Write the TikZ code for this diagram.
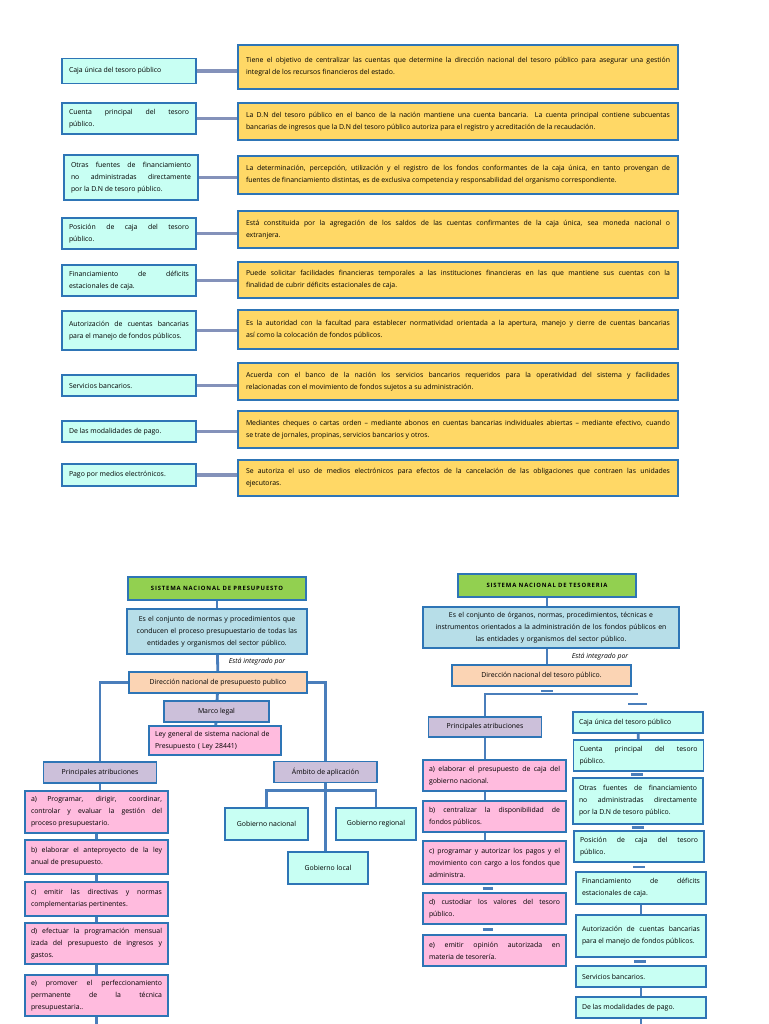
\documentclass[tikz,border=0pt]{standalone}
\usepackage{fontspec}
\setmainfont{Open Sans}
\usepackage{tikz}
\usetikzlibrary{positioning,calc}
\definecolor{bordc}{RGB}{46,117,182}
\definecolor{cyanc}{RGB}{200,255,243}
\definecolor{goldc}{RGB}{255,216,102}
\definecolor{greenc}{RGB}{146,208,80}
\definecolor{descc}{RGB}{183,222,232}
\definecolor{peachc}{RGB}{251,212,180}
\definecolor{lavc}{RGB}{204,192,218}
\definecolor{pinkc}{RGB}{255,187,222}
\definecolor{lnc}{RGB}{74,126,187}
\definecolor{lkc}{RGB}{132,146,186}
\tikzset{
  bx/.style   = {draw=bordc, line width=1.8pt, inner xsep=6pt, inner ysep=2pt,
                 font=\fontsize{6.9}{12}\selectfont},
  cy/.style   = {bx, fill=cyanc, align=justify, text width=120pt, inner xsep=7pt},
  cyr/.style  = {bx, fill=cyanc, align=justify, text width=118pt},
  cyc/.style  = {bx, fill=cyanc, align=center},
  gd/.style   = {bx, fill=goldc, align=justify, text width=424pt, inner xsep=8pt},
  hd/.style   = {bx, fill=greenc, align=center, minimum width=178pt, minimum height=23pt,
                 font=\fontsize{5.9}{7}\selectfont\bfseries\addfontfeatures{LetterSpace=14}},
  ds/.style   = {bx, fill=descc, align=center},
  pc/.style   = {bx, fill=peachc, align=center, minimum height=21pt},
  lv/.style   = {bx, fill=lavc, align=center, minimum height=21pt},
  pk/.style   = {bx, fill=pinkc, align=justify, text width=131pt},
  ln/.style   = {draw=lnc, line width=2.8pt},
  lk/.style   = {draw=lkc, line width=3.5pt},
  lbl/.style  = {font=\fontsize{6.9}{8}\selectfont\itshape, inner sep=1pt},
}
\begin{document}
\begin{tikzpicture}[x=1pt,y=-1pt]
\path[use as bounding box, fill=white] (0,0) rectangle (768,1024);

\node[cy, minimum height=25pt] (l1) at (129,71) {Caja única del tesoro público};
\node[gd, minimum height=44pt] (r1) at (458,67)
     {Tiene el objetivo de centralizar las cuentas que determine la dirección nacional del tesoro público para asegurar una gestión\linebreak
      integral de los recursos financieros del estado.};
\node[cy, minimum height=31pt] (l2) at (129,118.5) {Cuenta principal del tesoro\linebreak público.};
\node[gd, minimum height=37pt] (r2) at (458,121.5)
     {La D.N del tesoro público en el banco de la nación mantiene una cuenta bancaria. La cuenta principal contiene subcuentas\linebreak
      bancarias de ingresos que la D.N del tesoro público autoriza para el registro y acreditación de la recaudación.};
\node[cy, minimum height=45pt] (l3) at (131,177.5)
     {Otras fuentes de financiamiento\linebreak no administradas directamente\linebreak por la D.N de tesoro público.};
\node[gd, minimum height=38pt] (r3) at (458,175)
     {La determinación, percepción, utilización y el registro de los fondos conformantes de la caja única, en tanto provengan de\linebreak
      fuentes de financiamiento distintas, es de exclusiva competencia y responsabilidad del organismo correspondiente.};
\node[cy, minimum height=31pt] (l4) at (129,233.5) {Posición de caja del tesoro\linebreak público.};
\node[gd, minimum height=37pt] (r4) at (458,229.5)
     {Está constituida por la agregación de los saldos de las cuentas confirmantes de la caja única, sea moneda nacional o\linebreak
      extranjera.};
\node[cy, minimum height=31pt] (l5) at (129,280.5) {Financiamiento de déficits\linebreak estacionales de caja.};
\node[gd, minimum height=36pt] (r5) at (458,280)
     {Puede solicitar facilidades financieras temporales a las instituciones financieras en las que mantiene sus cuentas con la\linebreak
      finalidad de cubrir déficits estacionales de caja.};
\node[cy, minimum height=39pt] (l6) at (129,330.5)
     {Autorización de cuentas bancarias\linebreak para el manejo de fondos públicos.};
\node[gd, minimum height=39pt] (r6) at (458,329.5)
     {Es la autoridad con la facultad para establecer normatividad orientada a la apertura, manejo y cierre de cuentas bancarias\linebreak
      así como la colocación de fondos públicos.};
\node[cy, minimum height=21pt] (l7) at (129,385.5) {Servicios bancarios.};
\node[gd, minimum height=37pt] (r7) at (458,381.5)
     {Acuerda con el banco de la nación los servicios bancarios requeridos para la operatividad del sistema y facilidades\linebreak
      relacionadas con el movimiento de fondos sujetos a su administración.};
\node[cy, minimum height=21pt] (l8) at (129,431.5) {De las modalidades de pago.};
\node[gd, minimum height=37pt] (r8) at (458,429.5)
     {Mediantes cheques o cartas orden – mediante abonos en cuentas bancarias individuales abiertas – mediante efectivo, cuando\linebreak
      se trate de jornales, propinas, servicios bancarios y otros.};
\node[cy, minimum height=22pt] (l9) at (129,475) {Pago por medios electrónicos.};
\node[gd, minimum height=36pt] (r9) at (458,478)
     {Se autoriza el uso de medios electrónicos para efectos de la cancelación de las obligaciones que contraen las unidades\linebreak
      ejecutoras.};

\draw[lk] (l1.east) -- (l1.east -| r1.west);
\draw[lk] (l2.east) -- (l2.east -| r2.west);
\draw[lk] (l3.east) -- (l3.east -| r3.west);
\draw[lk] (l4.east) -- (l4.east -| r4.west);
\draw[lk] (l5.east) -- (l5.east -| r5.west);
\draw[lk] (l6.east) -- (l6.east -| r6.west);
\draw[lk] (l7.east) -- (l7.east -| r7.west);
\draw[lk] (l8.east) -- (l8.east -| r8.west);
\draw[lk] (l9.east) -- (l9.east -| r9.west);

\node[hd] (hp) at (217,588.5) {SISTEMA NACIONAL DE PRESUPUESTO};
\node[ds, text width=168pt, minimum height=45pt] (dp) at (217,631.5)
     {Es el conjunto de normas y procedimientos que\\
      conducen el proceso presupuestario de todas las\\
      entidades y organismos del sector público.};
\node[lbl] (lbp) at (257,662) {Está integrado por};
\node[pc, minimum width=178pt] (np) at (218,682.5) {Dirección nacional de presupuesto publico};
\node[lv, minimum width=105pt] (ml) at (216.5,711.5) {Marco legal};
\node[bx, fill=pinkc, align=left, text width=120pt, minimum height=29pt] (ly) at (215,740.5)
     {Ley general de sistema nacional de\\Presupuesto ( Ley 28441)};
\node[lv, minimum width=113pt] (pa) at (100,772.5) {Principales atribuciones};
\node[lv, minimum width=103pt] (am) at (325.5,772) {Ámbito de aplicación};
\node[pk, minimum height=42pt] (pa1) at (96.5,812)
     {a) Programar, dirigir, coordinar,\linebreak controlar y evaluar la gestión del\linebreak proceso presupuestario.};
\node[pk, minimum height=34pt] (pa2) at (96.5,857)
     {b) elaborar el anteproyecto de la ley\linebreak anual de presupuesto.};
\node[pk, minimum height=34pt] (pa3) at (96.5,899)
     {c) emitir las directivas y normas\linebreak complementarias pertinentes.};
\node[pk, minimum height=41pt] (pa4) at (96.5,943.5)
     {d) efectuar la programación mensual\linebreak izada del presupuesto de ingresos y\linebreak gastos.};
\node[pk, minimum height=41pt] (pa5) at (96.5,995.5)
     {e) promover el perfeccionamiento\linebreak permanente de la técnica\linebreak presupuestaria..};
\node[cyc, minimum width=83pt, minimum height=32pt] (gn) at (266.5,824) {Gobierno nacional};
\node[cyc, minimum width=80pt, minimum height=32pt] (gr) at (376,824) {Gobierno regional};
\node[cyc, minimum width=80pt, minimum height=32pt] (gl) at (328,868) {Gobierno local};
\coordinate (pbot) at (pa5.south |- 0,1024);

\draw[ln] (hp) -- (dp);
\draw[ln] (dp) -- (np);
\draw[ln] (np.west) -| (pa.north);
\draw[ln] (np.east) -| (am.north);
\draw[ln] (np) -- (ml);
\draw[ln] (ml) -- (ly);
\draw[ln] (pa.south) -- (pa.south |- pa1.north);
\draw[ln] (pa1) -- (pa2);
\draw[ln] (pa2) -- (pa3);
\draw[ln] (pa3) -- (pa4);
\draw[ln] (pa4) -- (pa5);
\draw[ln] (pa5) -- (pbot);
\draw[ln] (am.south) -- (am.south |- gl.north);
\draw[ln] (gn.north) -- ++(0,-17) -| (gr.north);

\node[hd] (ht) at (547,585.5) {SISTEMA NACIONAL DE TESORERIA};
\node[ds, text width=244pt, minimum height=41pt] (dt) at (551,627.5)
     {Es el conjunto de órganos, normas, procedimientos, técnicas e\\
      instrumentos orientados a la administración de los fondos públicos en\\
      las entidades y organismos del sector público.};
\node[lbl] (lbt) at (600,657) {Está integrado por};
\node[pc, minimum width=179pt] (nt) at (541.5,675.5) {Dirección nacional del tesoro público.};
\node[lv, minimum width=113pt, minimum height=20pt] (pt) at (485,727) {Principales atribuciones};
\node[pk, minimum height=31pt] (pt1) at (494.5,775.5)
     {a) elaborar el presupuesto de caja del\linebreak gobierno nacional.};
\node[pk, minimum height=31pt] (pt2) at (494.5,816.5)
     {b) centralizar la disponibilidad de\linebreak fondos públicos.};
\node[pk, minimum height=43pt] (pt3) at (494.5,862.5)
     {c) programar y autorizar los pagos y el\linebreak movimiento con cargo a los fondos que\linebreak administra.};
\node[pk, minimum height=31pt] (pt4) at (494.5,908.5)
     {d) custodiar los valores del tesoro\linebreak público.};
\node[pk, minimum height=31pt] (pt5) at (494.5,950.5)
     {e) emitir opinión autorizada en\linebreak materia de tesorería.};
\node[cyr, minimum height=21pt] (c1) at (638,722.5) {Caja única del tesoro público};
\node[cyr, minimum height=31pt] (c2) at (638.5,755.5) {Cuenta principal del tesoro\linebreak público.};
\node[cyr, minimum height=46pt] (c3) at (638,801)
     {Otras fuentes de financiamiento\linebreak no administradas directamente\linebreak por la D.N de tesoro público.};
\node[cyr, minimum height=31pt] (c4) at (639,846.5) {Posición de caja del tesoro\linebreak público.};
\node[cyr, minimum height=32pt] (c5) at (641,888) {Financiamiento de déficits\linebreak estacionales de caja.};
\node[cyr, minimum height=42pt] (c6) at (641,936)
     {Autorización de cuentas bancarias\linebreak para el manejo de fondos públicos.};
\node[cyr, minimum height=21pt] (c7) at (641,976.5) {Servicios bancarios.};
\node[cyr, minimum height=21pt] (c8) at (641,1007.5) {De las modalidades de pago.};
\coordinate (tbar) at (638,694);
\coordinate (cbot) at (c8.south |- 0,1024);

\draw[ln] (ht.south) -- (ht.south |- dt.north);
\draw[ln] (ht.south |- dt.south) -- (ht.south |- nt.north);
\draw[ln] ([xshift=-0.5pt,yshift=-4pt]nt.south) -- ++(12,0);
\draw[ln] (tbar) -| (pt.north);
\draw[ln] ([xshift=-10pt,yshift=-10pt]tbar) -- ++(19,0);
\draw[ln] (pt.south) -- (pt.south |- pt1.north);
\draw[ln] (pt1.south -| pt.south) -- (pt2.north -| pt.south);
\draw[ln] (pt2.south -| pt.south) -- (pt3.north -| pt.south);
\draw[ln] ($(pt3.south)!0.5!(pt4.north)+(-12,0)$) -- ++(10,0);
\draw[ln] ($(pt4.south)!0.5!(pt5.north)+(-12,0)$) -- ++(10,0);
\draw[ln] (c1) -- (c2);
\draw[ln] ($(c2.south)!0.5!(c3.north)+(-7,0)$) -- ++(12,0);
\draw[ln] ($(c3.south)!0.5!(c4.north)+(-7,0)$) -- ++(12,0);
\draw[ln] ($(c4.south)!0.5!(c5.north)+(-7,0)$) -- ++(12,0);
\draw[ln] (c5) -- (c6);
\draw[ln] ($(c6.south)!0.5!(c7.north)+(-7,0)$) -- ++(12,0);
\draw[ln] (c7) -- (c8);
\draw[ln] (c8) -- (cbot);
\end{tikzpicture}
\end{document}
